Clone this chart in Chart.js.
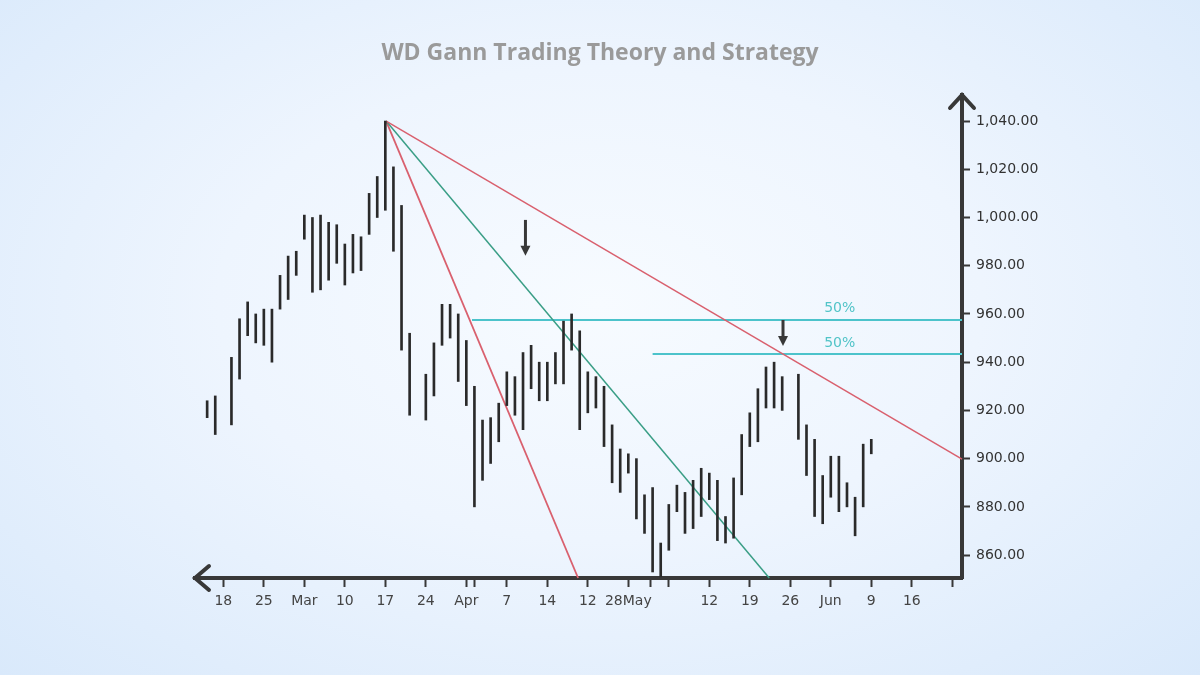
<!DOCTYPE html>
<html>
<head>
<meta charset="utf-8">
<script src="https://cdn.jsdelivr.net/npm/chart.js@4"></script>
<style>
  html, body { margin: 0; padding: 0; }
  body {
    width: 1200px; height: 675px; overflow: hidden;
    background: radial-gradient(ellipse at 50% 45%, #f7fbff 0%, #eef5fe 45%, #d9e9fb 100%);
  }
  #wrap { position: relative; width: 1200px; height: 675px; }
</style>
</head>
<body>
<div id="wrap"><canvas id="gann" width="1200" height="675"></canvas></div>
<script>
// trading day index of each bar
const days = [0, 1, 3, 4, 5, 6, 7, 8, 9, 10, 11, 12, 13, 14, 15, 16, 17, 18, 19, 20,
  21, 22, 23, 24, 25, 27, 28, 29, 30, 31, 32, 33, 34, 35, 36, 37, 38, 39, 40, 41,
  42, 43, 44, 45, 46, 47, 48, 49, 50, 51, 52, 53, 54, 55, 56, 57, 58, 59, 60, 61,
  62, 63, 64, 65, 66, 67, 68, 69, 70, 71, 73, 74, 75, 76, 77, 78, 79, 80, 81, 82];
const highs = [924, 926, 942, 958, 965, 960, 962, 962, 976, 984, 986, 1001, 1000, 1001, 998, 997, 989, 993, 992, 1010,
  1017, 1040, 1021, 1005, 952, 935, 948, 964, 964, 960, 949, 930, 916, 917, 923, 936, 934, 944, 947, 940,
  940, 944, 957, 960, 953, 936, 934, 930, 914, 904, 902, 900, 885, 888, 865, 881, 889, 886, 891, 896,
  894, 891, 876, 892, 910, 919, 929, 938, 940, 934, 935, 914, 908, 893, 901, 901, 890, 884, 906, 908];
const lows = [917, 910, 914, 933, 951, 948, 947, 940, 962, 966, 976, 991, 969, 970, 974, 981, 972, 977, 978, 993,
  1000, 1003, 986, 945, 918, 916, 926, 947, 950, 932, 922, 880, 891, 898, 907, 922, 918, 912, 929, 924,
  924, 931, 931, 945, 912, 919, 921, 905, 890, 886, 894, 875, 869, 853, 851, 862, 878, 869, 871, 876,
  883, 866, 865, 867, 885, 905, 907, 921, 921, 920, 908, 893, 876, 873, 884, 878, 880, 868, 880, 902];

// x ticks (trading day) and their labels
const xTickPos = [2, 7, 12, 17, 22, 27, 32, 33, 37, 42, 47, 52, 54.8, 57, 62, 67, 72, 77, 82, 87, 92];
const xTickLabels = ['18', '25', 'Mar', '10', '17', '24', 'Apr', '', '7', '14', '12', '28May', '', '', '12', '19', '26', 'Jun', '9', '16', ''];
const yTicks = [860, 880, 900, 920, 940, 960, 980, 1000, 1020, 1040];

// Gann angle lines from the top, and 50% retracement levels
const peak = { x: 22.1, y: 1040 };
const fanShallow = [peak, { x: 93.2, y: 899.8 }];
const fanMid = [peak, { x: 69.4, y: 850.5 }];
const fanSteep = [peak, { x: 45.8, y: 850.5 }];
const level1 = [{ x: 32.7, y: 957.5 }, { x: 93.2, y: 957.5 }];
const level2 = [{ x: 55, y: 943.4 }, { x: 93.2, y: 943.4 }];
const levelLabels = [{ x: 78.1, y: 962.5, text: '50%' }, { x: 78.1, y: 948, text: '50%' }];
const arrows = [{ x: 39.3, from: 999, to: 985 }, { x: 71.1, from: 957.5, to: 947.5 }];

const ink = '#383838';

const decor = {
  id: 'decor',
  afterDraw(chart) {
    const { ctx, chartArea: a, scales: { x, y } } = chart;
    ctx.save();
    // title
    ctx.fillStyle = '#9a9a9a';
    ctx.font = 'bold 23px "Open Sans", "DejaVu Sans", sans-serif';
    ctx.textAlign = 'center';
    ctx.textBaseline = 'middle';
    ctx.fillText('WD Gann Trading Theory and Strategy', 600, 53);
    // axis arrowheads
    ctx.strokeStyle = ink;
    ctx.lineWidth = 4;
    ctx.lineCap = 'round';
    ctx.beginPath();
    ctx.moveTo(a.right - 12, a.top + 13);
    ctx.lineTo(a.right, a.top);
    ctx.lineTo(a.right + 12, a.top + 13);
    ctx.moveTo(a.left + 14, a.bottom - 12);
    ctx.lineTo(a.left, a.bottom);
    ctx.lineTo(a.left + 14, a.bottom + 12);
    ctx.stroke();
    // down arrows
    arrows.forEach(ar => {
      const px = x.getPixelForValue(ar.x);
      const p1 = y.getPixelForValue(ar.from);
      const p2 = y.getPixelForValue(ar.to);
      ctx.lineWidth = 3;
      ctx.lineCap = 'butt';
      ctx.beginPath();
      ctx.moveTo(px, p1);
      ctx.lineTo(px, p2 - 4);
      ctx.stroke();
      ctx.fillStyle = ink;
      ctx.beginPath();
      ctx.moveTo(px - 5, p2 - 8);
      ctx.lineTo(px + 5, p2 - 8);
      ctx.lineTo(px, p2 + 2);
      ctx.closePath();
      ctx.fill();
    });
    // 50% labels
    ctx.fillStyle = '#52c4c8';
    ctx.font = '14px "DejaVu Sans", sans-serif';
    ctx.textAlign = 'center';
    levelLabels.forEach(l => ctx.fillText(l.text, x.getPixelForValue(l.x), y.getPixelForValue(l.y)));
    ctx.restore();
  }
};

const lineDs = (data, color, width) => ({
  type: 'line', data, borderColor: color, borderWidth: width,
  pointRadius: 0, fill: false, tension: 0, clip: false
});

new Chart(document.getElementById('gann'), {
  type: 'bar',
  data: {
    datasets: [
      {
        data: days.map((d, i) => ({ x: d, y: [lows[i], highs[i]] })),
        backgroundColor: '#2a2a2a',
        barThickness: 2,
        borderSkipped: false
      },
      lineDs(fanShallow, '#d9606e', 1.5),
      lineDs(fanMid, '#3a9e86', 1.5),
      lineDs(fanSteep, '#d9606e', 1.8),
      lineDs(level1, '#4cc3cb', 2),
      lineDs(level2, '#4cc3cb', 2)
    ]
  },
  options: {
    responsive: false,
    animation: false,
    layout: { padding: { left: 195, top: 95, right: 0, bottom: 0 } },
    plugins: { legend: { display: false }, tooltip: { enabled: false } },
    scales: {
      x: {
        type: 'linear',
        min: -1.5, max: 93.2,
        offset: false,
        afterBuildTicks: s => { s.ticks = xTickPos.map(v => ({ value: v })); },
        afterFit: s => { s.height = 97; },
        ticks: {
          autoSkip: false, maxRotation: 0, padding: 6,
          color: '#444', font: { size: 14, family: 'DejaVu Sans' },
          callback: (v, i) => xTickLabels[i]
        },
        grid: { offset: false, drawOnChartArea: false, tickLength: 9, tickWidth: 2, tickColor: ink },
        border: { color: ink, width: 4 }
      },
      y: {
        position: 'right',
        min: 850.5, max: 1050.8,
        afterBuildTicks: s => { s.ticks = yTicks.map(v => ({ value: v })); },
        afterFit: s => { s.width = 238; },
        ticks: {
          padding: 6, color: '#333', font: { size: 14, family: 'DejaVu Sans' },
          callback: v => v.toLocaleString('en-US', { minimumFractionDigits: 2, maximumFractionDigits: 2 })
        },
        grid: { drawOnChartArea: false, tickLength: 8, tickWidth: 2, tickColor: ink },
        border: { color: ink, width: 4 }
      }
    }
  },
  plugins: [decor]
});
</script>
</body>
</html>
